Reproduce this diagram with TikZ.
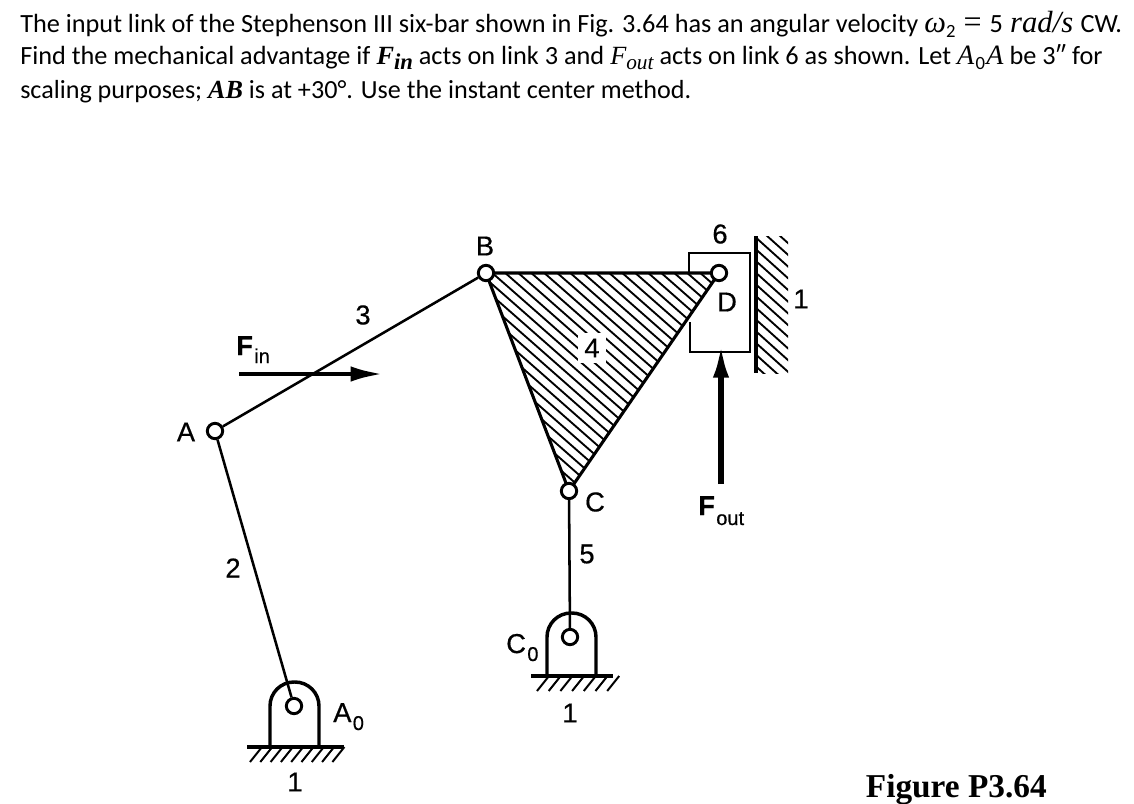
\documentclass[tikz,border=0pt]{standalone}
\usepackage{fontspec}
\setmainfont{Carlito}
\newfontfamily\lab[FakeBold=0.5]{Liberation Sans}
\newfontfamily\ser{Liberation Serif}
\usetikzlibrary{arrows.meta}
\tikzset{
  px/.style={x=0.75pt,y=-0.75pt},
  para/.style={anchor=base west,inner sep=0,font=\fontsize{19.7}{22}\selectfont},
  lbl/.style={inner sep=0,font=\lab\fontsize{20.5}{22}\selectfont},
  link/.style={line width=1.9pt,black},
  pin/.style={circle,draw=black,fill=white,line width=2.2pt,minimum size=11.5pt,inner sep=0},
  stroke/.style={line width=2.2pt,black},
  hatch/.style={line width=1.4pt,black},
  ground/.style={line width=2.6pt,black},
}
\newcommand{\mi}[1]{{\ser\itshape #1}}
\newcommand{\mb}[1]{{\ser\itshape\bfseries #1}}
\newcommand{\sm}[2][6pt]{\raisebox{-#1}{\lab\fontsize{15}{16}\selectfont #2}}
\newcommand{\msub}[1]{\raisebox{-4pt}{\fontsize{14}{14}\selectfont #1}}
\begin{document}
\begin{tikzpicture}[px]
\useasboundingbox (0,0) rectangle (1134,803);
% text
\node[para] (l1) at (20,32) {The input link of the Stephenson III six-bar shown in Fig. 3.64 has an angular velocity {\ser\fontsize{23}{22}\selectfont\textit{ω}}\msub{2}\hspace{6pt}{\ser\fontsize{24}{22}\selectfont =}\hspace{6pt}5\hspace{1pt} {\ser\itshape\fontsize{23}{22}\selectfont rad/s}\hspace{1pt} CW.};
\node[para] (l2) at (20,64) {Find the mechanical advantage if \mb{F}\raisebox{-4pt}{\fontsize{17}{17}\selectfont\mb{in}} acts on link 3 and \mi{F}\raisebox{-4pt}{\fontsize{16}{16}\selectfont\mi{out}} acts on link 6 as shown. Let {\fontsize{21}{22}\selectfont\mi{A}}\hspace{1pt}\msub{0}\hspace{1pt}{\fontsize{21}{22}\selectfont\mi{A}} be 3″ for};
\node[para,font=\fontsize{19.6}{22}\selectfont] (l3) at (20,98) {scaling purposes; \mb{AB} is at +30°. Use the instant center method.};
\node[anchor=base east,inner sep=0,font=\ser\bfseries\fontsize{25}{27}\selectfont] (fig) at (1047,797) {Figure P3.64};
% joints
\coordinate (Bc) at (486,273);
\coordinate (Dc) at (719,273);
\coordinate (Cc) at (569,491);
% triangle hatching
\begin{scope}
\clip (Bc) -- (Dc) -- (Cc) -- cycle;
\foreach \k in {-30,...,45}
  \draw[hatch] (380+13*\k,220) -- ++(330,290);
\end{scope}
% slider
\draw[stroke] (689,273) -- (689,253) -- (750,253) -- (750,352) -- (690,352) -- (690,322);
% wall
\begin{scope}
\clip (756,236) rectangle (788,373);
\foreach \k in {0,...,18}
  \draw[hatch] (560+13*\k,190) -- ++(250,225);
\end{scope}
\draw[ground] (756,236) -- (756,373);
% triangle outline
\draw[line width=2.3pt] (Bc) -- (Dc) -- (Cc) -- cycle;
% grounds
\coordinate (A0c) at (294,706);
\coordinate (C0c) at (570,637);
\draw[ground] (270,747) -- (270,706) arc[start angle=180,end angle=270,radius=24] -- (295,682) arc[start angle=270,end angle=360,radius=24] -- (319,747);
\draw[ground] (247,747) -- (344,747);
\foreach \k in {0,...,8}
  \draw[line width=1.5pt] (250+10.3*\k,762) -- ++(12,-15);
\draw[ground] (547,676) -- (547,637) arc[start angle=180,end angle=270,radius=24] -- (572,613) arc[start angle=270,end angle=360,radius=24] -- (596,676);
\draw[ground] (531,676) -- (613,676);
\foreach \k in {0,...,6}
  \draw[line width=1.5pt] (537+11.7*\k,691) -- ++(12,-15);
% pins
\node[pin] (A) at (215,431) {};
\node[pin] (B) at (Bc) {};
\node[pin] (C) at (Cc) {};
\node[pin] (D) at (Dc) {};
\node[pin] (A0) at (A0c) {};
\node[pin] (C0) at (C0c) {};
% links
\draw[link] (A) -- (B);
\draw[link] (A) -- (A0);
\draw[link] (C) -- (C0);
% forces
\coordinate (finS) at (239,374);
\coordinate (finE) at (384,374);
\draw[line width=3.6pt,-{Latex[length=25pt,width=11.5pt]}] (finS) -- (finE);
\coordinate (foutS) at (721,484);
\coordinate (foutE) at (721,343);
\draw[line width=4.5pt,-{Latex[length=26pt,width=12pt]}] (foutS) -- (foutE);
% labels
\node[lbl] (tA) at (186,432) {A};
\node[lbl] (tB) at (485,246) {B};
\node[lbl] (tC) at (595,502) {C};
\node[lbl] (tD) at (727,302) {D};
\node[lbl] (t2) at (233,568) {2};
\node[lbl] (t3) at (363,315) {3};
\node[lbl,fill=white,inner sep=4.5pt] (t4) at (592,348) {4};
\node[lbl] (t5) at (587,554) {5};
\node[lbl] (t6) at (720,234) {6};
\node[lbl] (t1a) at (295,782) {1};
\node[lbl] (t1b) at (570,713) {1};
\node[lbl] (t1c) at (801,299) {1};
\node[lbl,anchor=base west] (tFin) at (236,355) {\textbf{F}\hspace{1pt}\sm{in}};
\node[lbl,anchor=base west] (tFout) at (698,515) {\textbf{F}\hspace{1pt}\sm[7.5pt]{out}};
\node[lbl,anchor=base west] (tAo) at (333,722) {A\hspace{1pt}\sm{0}};
\node[lbl,anchor=base west] (tCo) at (506,653) {C\hspace{1pt}\sm{0}};
\end{tikzpicture}
\end{document}
